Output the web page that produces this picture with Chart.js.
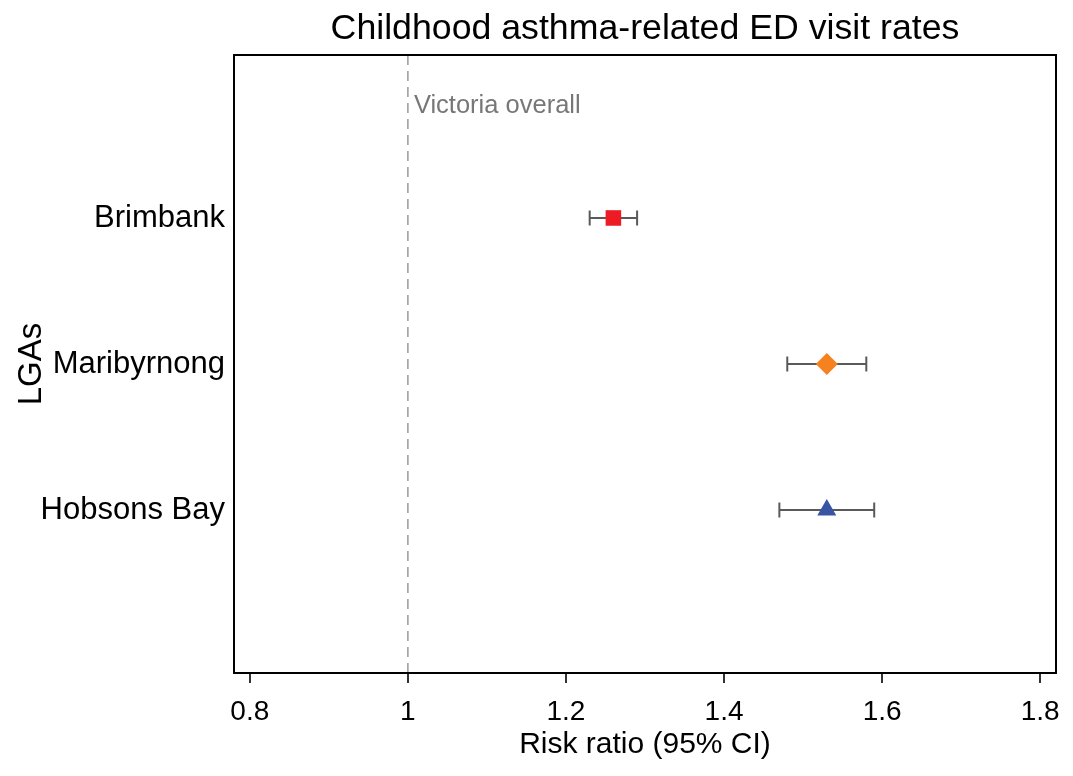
<!DOCTYPE html>
<html>
<head>
<meta charset="utf-8">
<script src="https://cdn.jsdelivr.net/npm/chart.js@4"></script>
<style>
  body { margin: 0; background: #fff; }
  canvas { display: block; }
</style>
</head>
<body>
<canvas id="forestChart" width="1073" height="776"></canvas>
<script>
/* data */
const lgas = ['Brimbank', 'Maribyrnong', 'Hobsons Bay'];
const lgaPos = [3, 2, 1];
const riskRatio = [1.26, 1.53, 1.53];
const ciLow = [1.23, 1.48, 1.47];
const ciHigh = [1.29, 1.58, 1.59];
const markerColors = ['#ED1C24', '#F5821F', '#3A54A4'];
const markerStyles = ['rect', 'rectRot', 'triangle'];
const xTicks = [0.8, 1, 1.2, 1.4, 1.6, 1.8];
const refValue = 1;
const refLabel = 'Victoria overall';
const refLabelPos = 3.77;
const chartTitle = 'Childhood asthma-related ED visit rates';

const FONT = "'Liberation Sans', Arial, sans-serif";

const points = lgas.map((name, i) => ({ x: riskRatio[i], y: lgaPos[i] }));

/* error bars, reference line, title over the plot, box */
const forestPlugin = {
  id: 'forestPlugin',
  beforeDatasetsDraw(chart) {
    const ctx = chart.ctx;
    const x = chart.scales.x, y = chart.scales.y;
    const area = chart.chartArea;

    // dashed reference line
    const rx = x.getPixelForValue(refValue);
    ctx.save();
    ctx.strokeStyle = '#999';
    ctx.lineWidth = 1.5;
    ctx.setLineDash([10, 6]);
    ctx.beginPath();
    ctx.moveTo(rx, area.top);
    ctx.lineTo(rx, area.bottom);
    ctx.stroke();
    ctx.restore();

    ctx.save();
    ctx.fillStyle = '#777';
    ctx.font = '25.5px ' + FONT;
    ctx.textBaseline = 'middle';
    ctx.textAlign = 'left';
    ctx.fillText(refLabel, rx + 6, y.getPixelForValue(refLabelPos));
    ctx.restore();

    // confidence intervals
    ctx.save();
    ctx.strokeStyle = '#5a5a5a';
    ctx.lineWidth = 2;
    lgas.forEach((name, i) => {
      const py = y.getPixelForValue(lgaPos[i]);
      const x0 = x.getPixelForValue(ciLow[i]);
      const x1 = x.getPixelForValue(ciHigh[i]);
      ctx.beginPath();
      ctx.moveTo(x0, py); ctx.lineTo(x1, py);
      ctx.moveTo(x0, py - 7.5); ctx.lineTo(x0, py + 7.5);
      ctx.moveTo(x1, py - 7.5); ctx.lineTo(x1, py + 7.5);
      ctx.stroke();
    });
    ctx.restore();
  },
  afterDraw(chart) {
    const ctx = chart.ctx;
    const a = chart.chartArea;
    ctx.save();
    ctx.strokeStyle = '#000';
    ctx.lineWidth = 2;
    ctx.strokeRect(a.left, a.top, a.right - a.left, a.bottom - a.top);

    // title centred on the plot panel
    ctx.fillStyle = '#000';
    ctx.font = '35.7px ' + FONT;
    ctx.textAlign = 'center';
    ctx.textBaseline = 'middle';
    ctx.fillText(chartTitle, (a.left + a.right) / 2, 29);
    ctx.restore();
  }
};

const config = {
  type: 'scatter',
  data: {
    datasets: [{
      label: 'Risk ratio',
      data: points,
      pointStyle: markerStyles,
      backgroundColor: markerColors,
      borderWidth: 0,
      pointRadius: 11,
      pointHoverRadius: 11
    }]
  },
  options: {
    responsive: false,
    animation: false,
    layout: { padding: { left: 0, right: 17, top: 55, bottom: 0 } },
    plugins: {
      legend: { display: false },
      tooltip: { enabled: false },
      title: { display: false }
    },
    scales: {
      x: {
        type: 'linear',
        min: 0.78,
        max: 1.82,
        afterBuildTicks: s => { s.ticks = xTicks.map(v => ({ value: v })); },
        afterFit: s => { s.height = 103; },
        border: { display: false },
        grid: {
          drawOnChartArea: false,
          drawTicks: true,
          tickLength: 10,
          color: '#333',
          lineWidth: 2
        },
        ticks: {
          color: '#000',
          padding: 12,
          font: { family: FONT, size: 28 },
          callback: v => String(Math.round(v * 10) / 10)
        },
        title: {
          display: true,
          text: 'Risk ratio (95% CI)',
          color: '#000',
          font: { family: FONT, size: 30 },
          padding: { top: 0, bottom: 13 }
        }
      },
      y: {
        type: 'linear',
        min: -0.116,
        max: 4.116,
        afterBuildTicks: s => { s.ticks = lgaPos.map(v => ({ value: v })); },
        afterFit: s => { s.width = 234; },
        border: { display: false },
        grid: { display: false, drawTicks: false, tickLength: 0 },
        ticks: {
          color: '#000',
          padding: 9,
          font: { family: FONT, size: 31 },
          callback: v => lgas[lgaPos.indexOf(v)]
        },
        title: {
          display: true,
          text: 'LGAs',
          color: '#000',
          font: { family: FONT, size: 33 },
          padding: { top: 12, bottom: 0 }
        }
      }
    }
  },
  plugins: [forestPlugin]
};

var myChart = new Chart(
  document.getElementById('forestChart'),
  config
);
</script>
</body>
</html>
